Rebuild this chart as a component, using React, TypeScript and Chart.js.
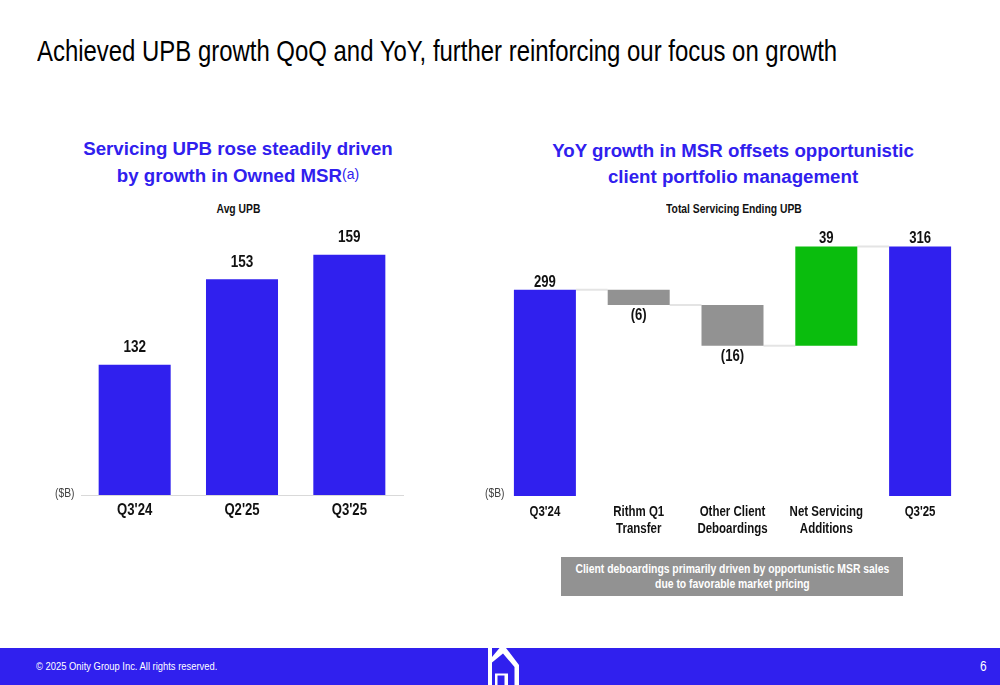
import React, { useEffect, useRef } from "react";
import { Chart, registerables } from "chart.js";
Chart.register(...registerables);

const FONT = '"Liberation Sans", Arial, Helvetica, sans-serif';
const NARROW = 0.82; // emulate Arial Narrow by horizontal scaling
const BLUE = "#3020EE";
const GREEN = "#0ABD0D";
const GRAY = "#929292";
const INK = "#111111";

// Left chart: Avg UPB ($B)
const avgCategories = ["Q3'24", "Q2'25", "Q3'25"];
const avgValues = [132, 153, 159];
const avgAxisMin = 100;
const avgAxisMax = 170;

// Right chart: Total Servicing Ending UPB ($B) waterfall
const wfCategories = [["Q3'24"], ["Rithm Q1", "Transfer"], ["Other Client", "Deboardings"], ["Net Servicing", "Additions"], ["Q3'25"]];
const wfStart = 299;
const wfSteps = [-6, -16, 39];
const wfEnd = 316;
const wfAxisMin = 218;
const wfAxisMax = 326;

// build waterfall table from the arrays
const wfRunning: number[] = [wfStart];
const wfData: any[] = [wfStart];
const wfLabels: string[] = [String(wfStart)];
const wfColors: string[] = [BLUE];
{
  let acc = wfStart;
  for (const s of wfSteps) {
    wfData.push([acc, acc + s]);
    wfLabels.push(s < 0 ? `(${Math.abs(s)})` : String(s));
    wfColors.push(s < 0 ? GRAY : GREEN);
    acc += s;
    wfRunning.push(acc);
  }
  wfData.push(wfEnd);
  wfLabels.push(String(wfEnd));
  wfColors.push(BLUE);
  wfRunning.push(wfEnd);
}

function drawNarrow(ctx: CanvasRenderingContext2D, text: string, x: number, y: number) {
  ctx.save();
  ctx.translate(x, y);
  ctx.scale(NARROW, 1);
  ctx.fillText(text, 0, 0);
  ctx.restore();
}

function valueLabelPlugin(labels: string[], size: number, gapUp: number, gapDown: number) {
  return {
    id: "valueLabels",
    afterDatasetsDraw(chart: any) {
      const ctx = chart.ctx;
      const meta = chart.getDatasetMeta(0);
      const data = chart.data.datasets[0].data;
      ctx.save();
      ctx.font = `bold ${size}px ${FONT}`;
      ctx.fillStyle = INK;
      ctx.textAlign = "center";
      ctx.textBaseline = "alphabetic";
      meta.data.forEach((bar: any, i: number) => {
        const raw = data[i];
        const down = Array.isArray(raw) && raw[1] < raw[0];
        if (down) drawNarrow(ctx, labels[i], bar.x, Math.max(bar.y, bar.base) + gapDown);
        else drawNarrow(ctx, labels[i], bar.x, Math.min(bar.y, bar.base) - gapUp);
      });
      ctx.restore();
    },
  };
}

// category labels placed at the x scale's own tick positions, condensed
function tickLabelPlugin(size: number, firstOffset: number, lineGap: number) {
  return {
    id: "narrowTicks",
    afterDraw(chart: any) {
      const sc = chart.scales.x;
      const ctx = chart.ctx;
      ctx.save();
      ctx.font = `bold ${size}px ${FONT}`;
      ctx.fillStyle = INK;
      ctx.textAlign = "center";
      ctx.textBaseline = "middle";
      (chart.data.labels as any[]).forEach((lab, i) => {
        const lines = Array.isArray(lab) ? lab : [lab];
        const x = sc.getPixelForTick(i);
        lines.forEach((t: string, j: number) => drawNarrow(ctx, t, x, sc.top + firstOffset + j * lineGap));
      });
      ctx.restore();
    },
  };
}

const connectorPlugin = {
  id: "connectors",
  beforeDatasetsDraw(chart: any) {
    const ctx = chart.ctx;
    const meta = chart.getDatasetMeta(0);
    const y = chart.scales.y;
    ctx.save();
    ctx.strokeStyle = "#E4E4E4";
    ctx.lineWidth = 2;
    for (let i = 0; i < meta.data.length - 1; i++) {
      const a = meta.data[i];
      const b = meta.data[i + 1];
      const py = y.getPixelForValue(wfRunning[i]);
      ctx.beginPath();
      ctx.moveTo(a.x + a.width / 2, py);
      ctx.lineTo(b.x - b.width / 2, py);
      ctx.stroke();
    }
    ctx.restore();
  },
};

const N = ({ s = NARROW, origin = "center", children }: any) => (
  <span style={{ display: "inline-block", transform: `scaleX(${s})`, transformOrigin: origin, whiteSpace: "nowrap" }}>{children}</span>
);

const CenterLine = ({ s, children }: any) => (
  <div style={{ display: "flex", justifyContent: "center", whiteSpace: "nowrap" }}>
    <N s={s}>{children}</N>
  </div>
);

export default function App() {
  const leftRef = useRef<HTMLCanvasElement>(null);
  const rightRef = useRef<HTMLCanvasElement>(null);

  useEffect(() => {
    Chart.defaults.font.family = FONT;
    const c1 = new Chart(leftRef.current!, {
      type: "bar",
      data: {
        labels: avgCategories,
        datasets: [{ data: avgValues, backgroundColor: BLUE, borderWidth: 0, barPercentage: 0.671, categoryPercentage: 1 }],
      },
      options: {
        animation: false,
        responsive: false,
        layout: { padding: { left: 41, right: 17, top: 10, bottom: 0 } },
        plugins: { legend: { display: false }, tooltip: { enabled: false } },
        scales: {
          x: {
            grid: { display: false, drawTicks: false },
            border: { display: true, color: "#D9D9D9", width: 1 },
            ticks: { display: false },
            afterFit: (s: any) => { s.height = 50; },
          },
          y: { display: false, min: avgAxisMin, max: avgAxisMax },
        },
      } as any,
      plugins: [valueLabelPlugin(avgValues.map(String), 16.5, 12.5, 0), tickLabelPlugin(16, 16, 19)],
    });

    const c2 = new Chart(rightRef.current!, {
      type: "bar",
      data: {
        labels: wfCategories,
        datasets: [{ data: wfData, backgroundColor: wfColors, borderWidth: 0, barPercentage: 0.661, categoryPercentage: 1 }],
      },
      options: {
        animation: false,
        responsive: false,
        layout: { padding: { left: 28, right: 23, top: 21, bottom: 0 } },
        plugins: { legend: { display: false }, tooltip: { enabled: false } },
        scales: {
          x: {
            grid: { display: false, drawTicks: false },
            border: { display: false },
            ticks: { display: false },
            afterFit: (s: any) => { s.height = 54; },
          },
          y: { display: false, min: wfAxisMin, max: wfAxisMax },
        },
      } as any,
      plugins: [connectorPlugin, valueLabelPlugin(wfLabels, 16, 3, 15), tickLabelPlugin(14, 16.5, 17)],
    });
    return () => { c1.destroy(); c2.destroy(); };
  }, []);

  const abs = (o: any) => ({ position: "absolute" as const, ...o });

  return (
    <div style={{ position: "absolute", left: 0, top: 0, width: 1000, height: 685, overflow: "hidden", background: "#fff", fontFamily: FONT, color: INK }}>
      <div style={abs({ left: 37, top: 37, fontSize: 29, lineHeight: "29px", whiteSpace: "nowrap", color: "#000" })}>
        <N s={0.825} origin="left">Achieved UPB growth QoQ and YoY, further reinforcing our focus on growth</N>
      </div>

      <div style={abs({ left: 38, top: 134.7, width: 400, textAlign: "center", fontSize: 18.7, fontWeight: 700, lineHeight: "27.7px", color: BLUE })}>
        <div>Servicing UPB rose steadily driven</div>
        <div>by growth in Owned MSR<span style={{ fontWeight: 400, fontSize: 14, position: "relative", top: -3 }}>(a)</span></div>
      </div>
      <div style={abs({ left: 533, top: 137.5, width: 400, textAlign: "center", fontSize: 18.7, fontWeight: 700, lineHeight: "26.6px", color: BLUE })}>
        <div>YoY growth in MSR offsets opportunistic</div>
        <div>client portfolio management</div>
      </div>

      <div style={abs({ left: 138, top: 203, width: 200, textAlign: "center", fontSize: 12, fontWeight: 700, lineHeight: "12px" })}><N s={0.86}>Avg UPB</N></div>
      <div style={abs({ left: 634, top: 203, width: 200, textAlign: "center", fontSize: 12, fontWeight: 700, lineHeight: "12px" })}><N s={0.86}>Total Servicing Ending UPB</N></div>

      <canvas ref={leftRef} width={380} height={345} style={abs({ left: 40, top: 200, width: 380, height: 345 })} />
      <canvas ref={rightRef} width={520} height={350} style={abs({ left: 470, top: 200, width: 520, height: 350 })} />

      <div style={abs({ left: 55, top: 487, fontSize: 12, lineHeight: "12px", color: "#404040" })}><N s={0.86} origin="left">($B)</N></div>
      <div style={abs({ left: 485, top: 487, fontSize: 12, lineHeight: "12px", color: "#404040" })}><N s={0.86} origin="left">($B)</N></div>

      <div style={abs({ left: 561, top: 557, width: 342, height: 39, background: GRAY, color: "#fff", fontSize: 12, fontWeight: 700, lineHeight: "14.5px", display: "flex", flexDirection: "column", justifyContent: "center" })}>
        <CenterLine s={0.865}>Client deboardings primarily driven by opportunistic MSR sales</CenterLine>
        <CenterLine s={0.865}>due to favorable market pricing</CenterLine>
      </div>

      <div style={abs({ left: 0, top: 648, width: 1000, height: 37, background: BLUE })}>
        <div style={abs({ left: 36, top: 12, fontSize: 11, lineHeight: "13px", color: "#fff", whiteSpace: "nowrap" })}><N s={0.854} origin="left">© 2025 Onity Group Inc. All rights reserved.</N></div>
        <div style={abs({ left: 980, top: 11, fontSize: 14, lineHeight: "15px", color: "#fff" })}><N s={0.85} origin="left">6</N></div>
        <svg width={40} height={40} style={abs({ left: 480, top: -2 })} viewBox="480 646 40 40">
          <rect x={488} y={648} width={4} height={38} fill="#fff" />
          <polygon fill="#fff" points="492,657 499.5,648 506,648 519,665 519,686 514.5,686 514.5,667 503,653.5 492,662.5" />
          <path fill="#fff" fillRule="evenodd" d="M495,673.5 H508 V686 H495 Z M497.5,675.5 H504.5 V686 H497.5 Z" />
        </svg>
      </div>
    </div>
  );
}
